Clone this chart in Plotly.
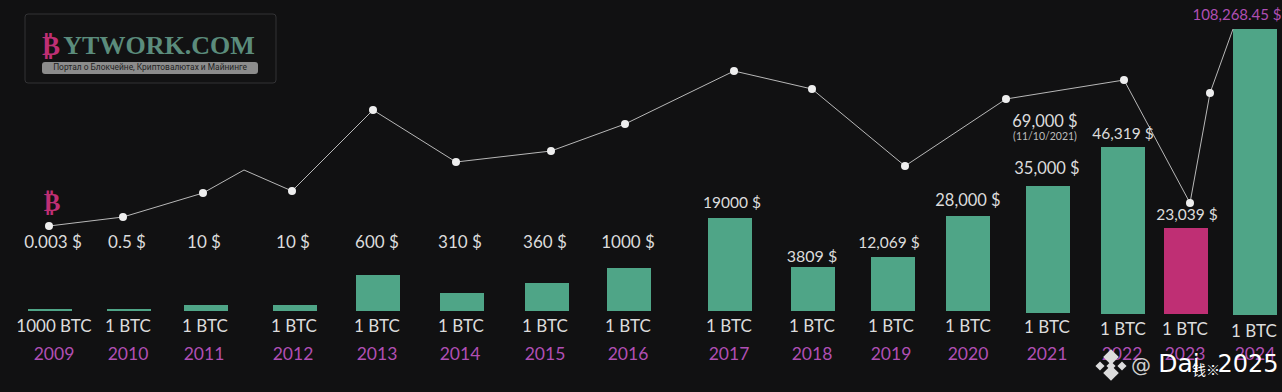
import plotly.graph_objects as go

# ---- data ----
years = ["2009","2010","2011","2012","2013","2014","2015","2016","2017","2018","2019","2020","2021","2022","2023","2024"]
amounts = ["1000 BTC"] + ["1 BTC"] * 15
prices = ["0.003 $","0.5 $","10 $","10 $","600 $","310 $","360 $","1000 $","19000 $","3809 $","12,069 $","28,000 $","35,000 $","46,319 $","23,039 $"]
top_price = "108,268.45 $"
peak_price = "69,000 $"
peak_date = "(11/10/2021)"
bar_pos = [49.5,128.5,206,294.5,378,462,547,629,730,813,893,967.5,1048,1123,1186,1254.5]
bar_heights = [1.5,2.5,6,6,36.5,18,28,43,93,44,54,95,127,167,86,286]
bar_floor = [0,0,0,0,0,0,0,0,0,0,0,0,-2,-3,-3,-4]

curve_pos = [49,123,203,244,292,373,456,551,625,734,812,905,1006,1124,1190,1210,1233]
curve_level = [85,94,118,141,120,201,149,160,187,240,222,145,212,231,108,218,282]
curve_dot = [1,1,1,0,1,1,1,1,1,1,1,1,1,1,1,1,0]

# ---- placement of the labels (chart units) ----
year_x = [54,128,204,293,377,460,545,628,729,812,891,968,1047,1122,1185,1255]
year_y = [-45,-45,-45,-45,-45,-45,-45,-45,-45,-45,-45,-45,-45,-45,-45,-45]
amount_x = [54,128,205,294,377,461,545,628,729,812,891,968,1047,1123,1185,1254]
amount_y = [-17,-17,-17,-17,-17,-17,-17,-17,-17,-17,-17,-17,-18,-20,-20,-22]
price_x = [53,127,204,293,377,460,545,628,732,812,889,968,1047,1123,1187]
price_y = [67,67,67,67,67,67,67,67,107,53,67,109,141,176,95]
price_size = [17,17,17,17,17,17,17,17,15.5,16,15.5,16.5,16.5,15.5,15.5]

BG = "#111112"; GREEN = "#4fa587"; PINK = "#bf2f74"; PURPLE = "#b04fb4"; TXT = "#dcdcdc"
FONT = "Lato"

def rounded(x0, x1, y0, y1, r):
    return (f"M{x0+r},{y0} L{x1-r},{y0} Q{x1},{y0} {x1},{y0+r} L{x1},{y1-r} Q{x1},{y1} {x1-r},{y1} "
            f"L{x0+r},{y1} Q{x0},{y1} {x0},{y1-r} L{x0},{y0+r} Q{x0},{y0} {x0+r},{y0} Z")

fig = go.Figure()
fig.add_trace(go.Bar(
    x=bar_pos, y=bar_heights, base=bar_floor, width=44,
    marker=dict(color=[PINK if y == "2023" else GREEN for y in years], line=dict(width=0)),
    hoverinfo="skip"))
fig.add_trace(go.Scatter(
    x=curve_pos, y=curve_level, mode="lines+markers",
    line=dict(color="#b8b8b8", width=1),
    marker=dict(color="#eeeeee", opacity=1, size=[8 if d else 0 for d in curve_dot], line=dict(width=0)),
    hoverinfo="skip"))

def labels(x, y, text, color, size, family=FONT):
    fig.add_trace(go.Scatter(x=x, y=y, text=text, mode="text", hoverinfo="skip",
                             textposition="middle center",
                             textfont=dict(color=color, size=size, family=family)))

labels(year_x, year_y, years, PURPLE, 17.5)
labels(amount_x, amount_y, amounts, TXT, 17)
labels(price_x, price_y, prices, TXT, price_size)
labels([1237], [295], [top_price], PURPLE, 15)
labels([1045], [188], [peak_price], TXT, 16.5)
labels([1045], [174], [peak_date], "#bdbdbd", 10.5)

# logo
fig.add_shape(type="path", xref="x", yref="y", path=rounded(25, 276, 228, 297, 3), layer="below",
              line=dict(color="#333335", width=1), fillcolor="#121213")
fig.add_shape(type="path", xref="x", yref="y", path=rounded(42, 258, 237, 249, 3), layer="below",
              line=dict(width=0), fillcolor="#8c8c8c")
labels([159], [264], ["<b>YTWORK.COM</b>"], "#5b8c7c", 26, "Liberation Serif")
labels([51], [263], ["<b>₿</b>"], PINK, 27, "DejaVu Sans")
labels([150], [243.5], ["Портал о Блокчейне, Криптовалютах и Майнинге"], "#222222", 8.4, "Roboto")
labels([52], [106], ["<b>₿</b>"], PINK, 25, "DejaVu Sans")

# watermark
fig.add_trace(go.Scatter(
    x=[1111,1111,1100,1122,1111], y=[-46,-62,-55,-55,-55],
    mode="markers", hoverinfo="skip",
    marker=dict(symbol="diamond", color="#dcdcdc", opacity=1, size=[12,12,7,7,7], line=dict(width=0))))
labels([1141], [-56], ["@"], "#cfcfcf", 20, "DejaVu Sans")
labels([1179], [-55], ["Dai"], "#ffffff", 25, "DejaVu Sans")
labels([1206], [-60], ["钱※"], "#ffffff", 14, "Noto Sans CJK SC")
labels([1248], [-55], ["2025"], "#ffffff", 24, "DejaVu Sans")

fig.update_layout(
    width=1282, height=392, margin=dict(l=0, r=0, t=0, b=0),
    paper_bgcolor=BG, plot_bgcolor=BG, showlegend=False, bargap=0,
    xaxis=dict(range=[0, 1282], visible=False, fixedrange=True),
    yaxis=dict(range=[-81, 311], visible=False, fixedrange=True))
fig.write_html("out.html", config=dict(displayModeBar=False),
               post_script="document.body.style.margin='0';document.body.style.background='#111112';document.documentElement.style.overflow='hidden';")
